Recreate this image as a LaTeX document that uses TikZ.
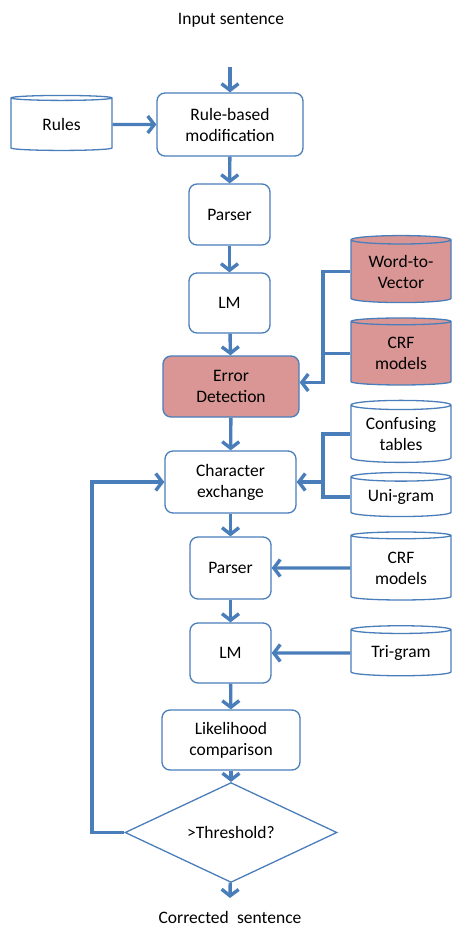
\documentclass[tikz,border=0pt]{standalone}
\usepackage{fontspec}
\setmainfont{Carlito}
\usetikzlibrary{shapes.geometric,arrows.meta}
\definecolor{lineblue}{RGB}{74,126,187}
\definecolor{errpink}{RGB}{217,150,148}
\tikzset{
  procbox/.style={draw=lineblue, line width=1.3pt, rounded corners=8pt, fill=white,
                  align=center, inner sep=0pt},
  dbase/.style={cylinder, shape border rotate=90, draw=lineblue, line width=1.3pt,
                fill=white, align=center, inner sep=0pt, aspect=0.13,
                minimum width=100pt},
  flow/.style={draw=lineblue, line width=3.4pt, -{Straight Barb[length=6.5pt,width=17pt]}},
  link/.style={draw=lineblue, line width=3.4pt},
}
\begin{document}
\begin{tikzpicture}[x=1pt, y=-1pt, font=\fontsize{17.5}{21}\selectfont]
    \useasboundingbox (0,0) rectangle (474,945);
    % main column
    \node (insent) at (231,20) {Input sentence};
    \coordinate (start) at (230,67);
    \node [procbox, minimum width=146pt, minimum height=63pt] (rule) at (230,124.5) {Rule-based\\modification};
    \node [procbox, minimum width=81pt, minimum height=61pt] (parserA) at (229.5,214.5) {Parser};
    \node [procbox, minimum width=81pt, minimum height=60pt] (lmA) at (229.5,303) {LM};
    \node [procbox, fill=errpink, minimum width=136pt, minimum height=61pt] (err) at (231,386.5) {Error\\Detection};
    \node [procbox, minimum width=131pt, minimum height=62pt] (chx) at (230.5,482) {Character\\exchange};
    \node [procbox, minimum width=81pt, minimum height=62pt] (parserB) at (230.5,568) {Parser};
    \node [procbox, minimum width=81pt, minimum height=60pt] (lmB) at (230.5,653) {LM};
    \node [procbox, minimum width=138pt, minimum height=60pt] (lik) at (231,740) {Likelihood\\comparison};
    \node [diamond, draw=lineblue, line width=1.3pt, inner sep=0pt, minimum width=212pt, minimum height=73pt] (thr) at (231,832.5) {>Threshold?};
    \coordinate (stop) at (230,898);
    \node (outsent) at (230,917) {Corrected\hspace{0.25em} sentence};

    % data sources
    \node [dbase, minimum width=101pt, minimum height=55pt] (rules) at (61.5,124.5) {Rules};
    \node [dbase, fill=errpink, minimum height=67pt] (wtv) at (401,271.5) {Word-to-\\Vector};
    \node [dbase, fill=errpink, minimum height=67pt] (crfA) at (401,353.5) {CRF\\models};
    \node [dbase, minimum height=62pt] (conf) at (401,434) {Confusing\\tables};
    \node [dbase, minimum height=44pt] (uni) at (401,497) {Uni-gram};
    \node [dbase, minimum height=68pt] (crfB) at (401,568) {CRF\\models};
    \node [dbase, minimum height=50pt] (tri) at (401,653) {Tri-gram};

    \coordinate (bus) at (323,0);
    \coordinate (loop) at (92,0);

    % flow
    \draw [flow] (start) -- (rule);
    \draw [flow] (rules) -- (rule);
    \draw [flow] (rule) -- (parserA);
    \draw [flow] (parserA) -- (lmA);
    \draw [flow] (lmA) -- (err);
    \draw [flow] (err) -- (chx);
    \draw [flow] (chx) -- (parserB);
    \draw [flow] (parserB) -- (lmB);
    \draw [flow] (lmB) -- (lik);
    \draw [flow] (lik) -- (thr);
    \draw [flow] (thr) -- (stop);

    % side inputs
    \draw [flow] (wtv.west) -| ([yshift=4pt]err.east -| bus) -- ([yshift=4pt]err.east);
    \draw [link] (crfA.west) -- (crfA.west -| bus);
    \draw [flow] (conf.west) -| (chx.east -| bus) -- (chx.east);
    \draw [link] (uni.west) -| (chx.east -| bus);
    \draw [flow] (crfB) -- (parserB);
    \draw [flow] (tri) -- (lmB);

    % loop back
    \draw [flow] (thr.west) -- (thr.west -| loop) |- (chx.west);
\end{tikzpicture}
\end{document}
